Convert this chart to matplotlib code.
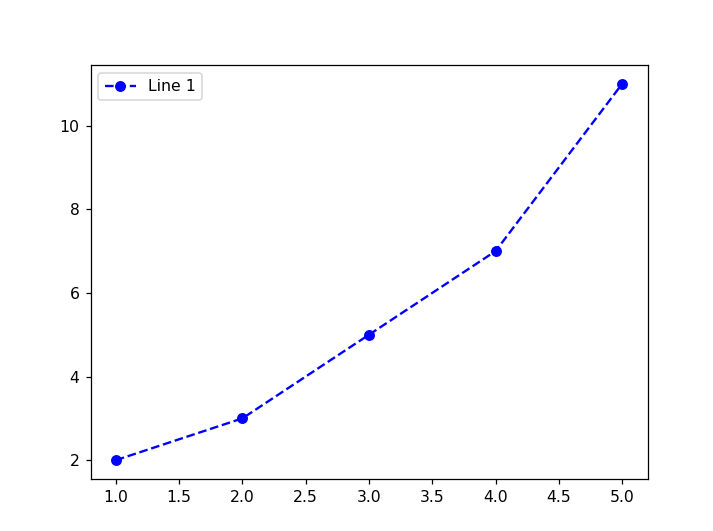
import matplotlib
matplotlib.use("Agg")
import matplotlib.pyplot as plt

x = [1, 2, 3, 4, 5]
y = [2, 3, 5, 7, 11]

dpi = 112.3
fig = plt.figure(figsize=(713 / dpi, 531 / dpi), dpi=dpi)
ax = fig.add_axes([90.5 / 713, 52 / 531, 557 / 713, 414 / 531])
ax.plot(x, y, marker='o', linestyle='--', color='blue', label='Line 1')
ax.legend()
fig.savefig("out.png", dpi=dpi)
